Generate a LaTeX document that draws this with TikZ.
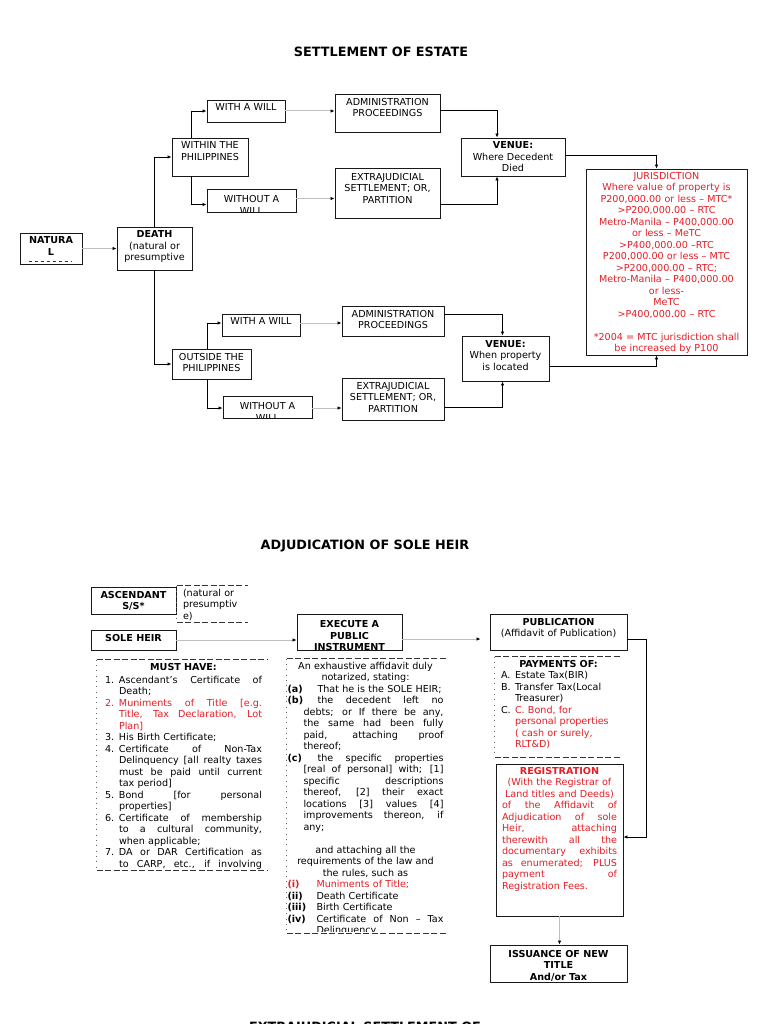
\documentclass[tikz,border=0pt]{standalone}
\usepackage{fontspec}
\setmainfont{DejaVu Sans}
\usepackage{tikz}
\usetikzlibrary{arrows.meta,calc}
\usepackage{xcolor}
\definecolor{jred}{RGB}{228,30,38}
\newcommand{\jl}[2]{\makebox[#1][s]{\spaceskip=.32em plus 1fil\xspaceskip=.32em plus 1fil\relax #2}}

\begin{document}
\begin{tikzpicture}[x=1pt, y=-1pt,
    box/.style={draw=black!90, line width=0.9pt, inner sep=0pt},
    txt/.style={font=\fontsize{9.6}{11.5}\selectfont, align=center, inner sep=0pt, outer sep=0pt, minimum width=0pt, minimum height=0pt},
    ctext/.style 2 args={path picture={\node[txt, anchor=north] at ([yshift=#1]path picture bounding box.north) {#2};}},
    ltext/.style n args={3}{path picture={\node[txt, align=left, text width=#2, anchor=north west] at ([xshift=#1, yshift=-3pt]path picture bounding box.north west) {#3};}},
    bline/.style={line width=0.8pt, -{Latex[length=4pt, width=3.5pt]}},
    gline/.style={draw=black!25, line width=1pt, -{Latex[length=4pt, width=3.5pt, color=black]}},
    dline/.style={draw=black!80, line width=1.1pt, dash pattern=on 6pt off 2.5pt},
    dotl/.style={draw=black!60, line width=0.8pt, dash pattern=on 0.8pt off 4.5pt},
    ttl/.style={font=\bfseries\fontsize{12.8}{15}\selectfont, inner sep=0pt}]
    \path[use as bounding box, fill=white] (0,0) rectangle (768,1024);

    % 上图：SETTLEMENT OF ESTATE
    \begin{scope}
        \node[ttl] (t1) at (381,52) {SETTLEMENT OF ESTATE};
        \node[box, minimum width=62pt, minimum height=31pt, ctext={-4pt}{\textbf{NATURA}\\\textbf{L}}] (nat) at (51,248.5) {};
        \draw[black!80, line width=0.8pt, dash pattern=on 3.5pt off 2.5pt] ([xshift=9pt,yshift=3pt]nat.south west) -- ([xshift=-10pt,yshift=3pt]nat.south east);
        \node[box, minimum width=75pt, minimum height=43pt, ctext={-4pt}{\textbf{DEATH}\\(natural or\\presumptive}] (death) at (154.5,248.5) {};
        \node[box, minimum width=76pt, minimum height=38pt, ctext={-4pt}{WITHIN THE\\PHILIPPINES}] (within) at (210,157) {};
        \node[box, minimum width=78pt, minimum height=22pt, ctext={-4pt}{WITH A WILL}] (will1) at (246,111) {};
        \node[box, minimum width=89pt, minimum height=23pt, ctext={-6.5pt}{WITHOUT A\\WILL}] (wo1) at (251.5,200.5) {};
        \node[box, minimum width=105pt, minimum height=38pt, ctext={-4pt}{ADMINISTRATION\\PROCEEDINGS}] (adm1) at (387.5,113) {};
        \node[box, minimum width=105pt, minimum height=50pt, ctext={-5pt}{EXTRAJUDICIAL\\SETTLEMENT; OR,\\PARTITION}] (ext1) at (387.5,193) {};
        \node[box, minimum width=104pt, minimum height=38pt, ctext={-4pt}{\textbf{VENUE:}\\Where Decedent\\Died}] (ven1) at (513,157) {};
        \node[box, minimum width=161pt, minimum height=186pt, ltext={0pt}{161pt, align=center}{\color{jred}JURISDICTION\\
            Where value of property is\\
            P200,000.00 or less -- MTC*\\
            >P200,000.00 -- RTC\\
            Metro-Manila -- P400,000.00\\
            or less -- MeTC\\
            >P400,000.00 --RTC\\
            P200,000.00 or less -- MTC\\
            >P200,000.00 -- RTC;\\
            Metro-Manila -- P400,000.00\\
            or less-\\
            MeTC\\
            >P400,000.00 -- RTC\\
            \mbox{}\\
            {*}2004 = MTC jurisdiction shall\\
            be increased by P100}] (jur) at (666.5,262) {};

        \node[box, minimum width=78pt, minimum height=22pt, ctext={-4pt}{WITH A WILL}] (will2) at (261,325) {};
        \node[box, minimum width=102pt, minimum height=30pt, ctext={-4pt}{ADMINISTRATION\\PROCEEDINGS}] (adm2) at (393,321) {};
        \node[box, minimum width=79pt, minimum height=30pt, ctext={-4pt}{OUTSIDE THE\\PHILIPPINES}] (out) at (211.5,364) {};
        \node[box, minimum width=89pt, minimum height=22pt, ctext={-6.5pt}{WITHOUT A\\WILL}] (wo2) at (267.5,407) {};
        \node[box, minimum width=102pt, minimum height=42pt, ctext={-4pt}{EXTRAJUDICIAL\\SETTLEMENT; OR,\\PARTITION}] (ext2) at (393,399) {};
        \node[box, minimum width=87pt, minimum height=45pt, ctext={-4pt}{\textbf{VENUE:}\\When property\\is located}] (ven2) at (505.5,358.5) {};

        \draw[gline] (nat) -- (death);
        \draw[bline] (death.north) |- (within.west);
        \draw[bline] ([xshift=-19pt]within.north) |- (will1.west);
        \draw[bline] ([xshift=-19pt]within.south) |- ([yshift=-4pt]wo1.west);
        \draw[gline] (will1.east) -- (will1.east -| adm1.west);
        \draw[gline] ([yshift=2pt]wo1.east) -- ([yshift=2pt]wo1.east -| ext1.west);
        \draw[bline] ([yshift=3pt]adm1.east) -| ([xshift=-16pt]ven1.north);
        \draw[bline] ([yshift=-11pt]ext1.east) -| ([xshift=-16pt]ven1.south);
        \draw[bline] ([yshift=2pt]ven1.east) -| ([xshift=-10pt]jur.north);
        \draw[bline] (death.south) |- (out.west);
        \draw[bline] ([xshift=-4.5pt]out.north) |- ([yshift=2pt]will2.west);
        \draw[bline] ([xshift=-4.5pt]out.south) |- ([yshift=-1pt]wo2.west);
        \draw[gline] ([yshift=2pt]will2.east) -- ([yshift=2pt]will2.east -| adm2.west);
        \draw[gline] ([yshift=-1pt]wo2.east) -- ([yshift=-1pt]wo2.east -| ext2.west);
        \draw[bline] ([yshift=7pt]adm2.east) -| ([xshift=-3pt]ven2.north);
        \draw[bline] ([yshift=-8pt]ext2.east) -| ([xshift=-3pt]ven2.south);
        \draw[bline] ([yshift=-8pt]ven2.east) -| ([xshift=-10pt]jur.south);
    \end{scope}

    % 下图：ADJUDICATION OF SOLE HEIR
    \begin{scope}
        \node[ttl] (t2) at (365,546) {ADJUDICATION OF SOLE HEIR};
        \node[box, minimum width=85pt, minimum height=27pt, ctext={-4pt}{\textbf{ASCENDANT}\\\textbf{S/S*}}] (asc) at (133.5,600.5) {};
        \node[fill=white, inner sep=0pt, minimum width=71pt, minimum height=34pt, ltext={6pt}{64pt}{(natural or\\presumptiv\\e)}] (natp) at (212.5,603) {};
        \node[box, minimum width=85pt, minimum height=20pt, ctext={-4.5pt}{\textbf{SOLE HEIR}}] (sole) at (133.5,640) {};
        \node[box, minimum width=105pt, minimum height=36pt, ctext={-6.5pt}{\textbf{EXECUTE A}\\\textbf{PUBLIC}\\\textbf{INSTRUMENT}}] (exe) at (349.5,632) {};
        \node[box, minimum width=137pt, minimum height=36pt, ctext={-4pt}{\textbf{PUBLICATION}\\(Affidavit of Publication)}] (pub) at (558.5,632) {};

        \node[fill=white, inner sep=0pt, minimum width=170pt, minimum height=210pt, ltext={8pt}{157pt}{%
            \makebox[157pt]{\textbf{MUST HAVE:}}\\[1.5pt]
            \makebox[14pt][l]{1.}\jl{143pt}{Ascendant's Certificate of}\\
            \hspace*{14pt}Death;\\
            \textcolor{jred}{\makebox[14pt][l]{2.}\jl{143pt}{Muniments of Title [e.g.}}\\
            \textcolor{jred}{\hspace*{14pt}\jl{143pt}{Title, Tax Declaration, Lot}}\\
            \textcolor{jred}{\hspace*{14pt}Plan]}\\
            \makebox[14pt][l]{3.}His Birth Certificate;\\
            \makebox[14pt][l]{4.}\jl{143pt}{Certificate of Non-Tax}\\
            \hspace*{14pt}\jl{143pt}{Delinquency [all realty taxes}\\
            \hspace*{14pt}\jl{143pt}{must be paid until current}\\
            \hspace*{14pt}tax period]\\
            \makebox[14pt][l]{5.}\jl{143pt}{Bond [for personal}\\
            \hspace*{14pt}properties]\\
            \makebox[14pt][l]{6.}\jl{143pt}{Certificate of membership}\\
            \hspace*{14pt}\jl{143pt}{to a cultural community,}\\
            \hspace*{14pt}when applicable;\\
            \makebox[14pt][l]{7.}\jl{143pt}{DA or DAR Certification as}\\
            \hspace*{14pt}\jl{143pt}{to CARP, etc., if involving}}] (must) at (182,765) {};

        \node[fill=white, inner sep=0pt, minimum width=161pt, minimum height=272pt, ltext={0.5pt}{156pt}{%
            \makebox[156pt]{An exhaustive affidavit duly}\\
            \makebox[156pt]{notarized, stating:}\\
            \makebox[30pt][l]{\textbf{(a)}}That he is the SOLE HEIR;\\
            \makebox[30pt][l]{\textbf{(b)}}\jl{126pt}{the decedent left no}\\
            \hspace*{16pt}\jl{140pt}{debts; or If there be any,}\\
            \hspace*{16pt}\jl{140pt}{the same had been fully}\\
            \hspace*{16pt}\jl{140pt}{paid, attaching proof}\\
            \hspace*{16pt}thereof;\\
            \makebox[30pt][l]{\textbf{(c)}}\jl{126pt}{the specific properties}\\
            \hspace*{16pt}\jl{140pt}{[real of personal] with; [1]}\\
            \hspace*{16pt}\jl{140pt}{specific descriptions}\\
            \hspace*{16pt}\jl{140pt}{thereof, [2] their exact}\\
            \hspace*{16pt}\jl{140pt}{locations [3] values [4]}\\
            \hspace*{16pt}\jl{140pt}{improvements thereon, if}\\
            \hspace*{16pt}any;\\
            \mbox{}\\
            \makebox[156pt]{and attaching all the}\\
            \makebox[156pt]{requirements of the law and}\\
            \makebox[156pt]{the rules, such as}\\
            \textcolor{jred}{\makebox[29pt][l]{\textbf{(i)}}Muniments of Title;}\\
            \makebox[29pt][l]{\textbf{(ii)}}Death Certificate\\
            \makebox[29pt][l]{\textbf{(iii)}}Birth Certificate\\
            \makebox[29pt][l]{\textbf{(iv)}}\jl{127pt}{Certificate of Non -- Tax}\\
            \hspace*{29pt}Delinquency}] (aff) at (367.5,795) {};

        \node[fill=white, inner sep=0pt, minimum width=127pt, minimum height=100pt, ltext={6pt}{115pt}{%
            \makebox[115pt]{\textbf{PAYMENTS OF:}}\\
            \makebox[14pt][l]{A.}Estate Tax(BIR)\\
            \makebox[14pt][l]{B.}Transfer Tax(Local\\
            \hspace*{14pt}Treasurer)\\
            \makebox[14pt][l]{C.}\textcolor{jred}{C. Bond, for}\\
            \hspace*{14pt}\textcolor{jred}{personal properties}\\
            \hspace*{14pt}\textcolor{jred}{( cash or surely,}\\
            \hspace*{14pt}\textcolor{jred}{RLT\&D)}}] (pay) at (558.5,707) {};

        \node[box, minimum width=127pt, minimum height=152pt, ltext={6pt}{115pt}{\color{jred}%
            \makebox[115pt]{\textbf{REGISTRATION}}\\
            \makebox[115pt]{(With the Registrar of}\\
            \makebox[115pt]{Land titles and Deeds)}\\
            \jl{115pt}{of the Affidavit of}\\
            \jl{115pt}{Adjudication of sole}\\
            \jl{115pt}{Heir, attaching}\\
            \jl{115pt}{therewith all the}\\
            \jl{115pt}{documentary exhibits}\\
            \jl{115pt}{as enumerated; PLUS}\\
            \jl{115pt}{payment of}\\
            Registration Fees.}] (reg) at (559.5,840) {};

        \node[box, minimum width=137pt, minimum height=37pt, ctext={-5pt}{\textbf{ISSUANCE OF NEW}\\\textbf{TITLE}\\\textbf{And/or Tax}}] (iss) at (558.5,963.5) {};

        % 虚线框
        \draw[dline] (natp.north west) -- (natp.north east) ([yshift=-2pt]natp.south west) -- ([yshift=-2pt]natp.south east);
        \draw[dotl] (natp.north west) -- (natp.south west);
        \draw[dline] (must.north west) -- (must.north east) (must.south west) -- (must.south east);
        \draw[dotl] (must.north west) -- (must.south west);
        \draw[dline] (aff.north west) -- (aff.north east) ([yshift=-2pt]aff.south west) -- ([yshift=-2pt]aff.south east);
        \draw[dotl] (aff.north west) -- (aff.south west);
        \draw[dline] (pay.north west) -- (pay.north east) (pay.south west) -- (pay.south east);
        \draw[dotl] (pay.north west) -- (pay.south west);

        \draw[gline] (sole.east) -- (sole.east -| exe.west);
        \draw[gline, shorten >=9pt] ([yshift=-7pt]exe.east) -- ([yshift=-7pt]exe.east -| pub.west);
        \draw[bline] ([yshift=-7pt]pub.east) -- ++(19,0) |- ([yshift=3pt]reg.east);
        \draw[gline] (reg.south) -- (reg.south |- iss.north);

        \node[ttl, anchor=north] (t3) at (365,1021.5) {EXTRAJUDICIAL SETTLEMENT OF};
    \end{scope}
\end{tikzpicture}
\end{document}
